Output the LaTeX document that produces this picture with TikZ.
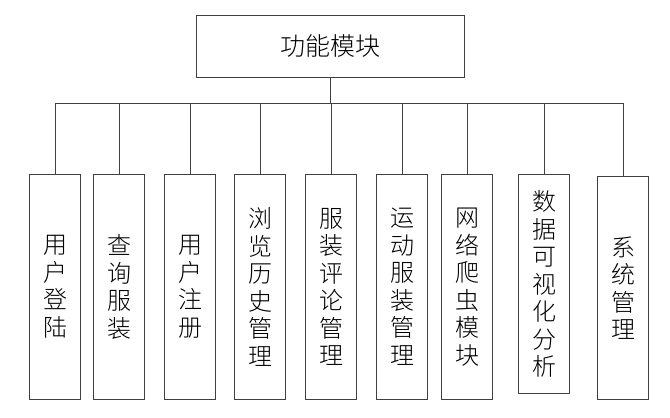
\documentclass[tikz,border=0pt]{standalone}
\usepackage{fontspec}
\setmainfont{Noto Sans CJK SC Light}
\begin{document}
\begin{tikzpicture}[x=1pt,y=-1pt,
  box/.style={draw=black!75,line width=0.8pt,inner sep=0pt},
  lbl/.style={align=center,font=\fontsize{24}{27.5}\selectfont},
  ln/.style={draw=black!75,line width=0.8pt}]
\useasboundingbox (0,0) rectangle (670,418);
\node[box,minimum width=268pt,minimum height=62pt,font=\fontsize{25}{28}\selectfont] (top) at (330,46) {功能模块};
\coordinate (hl) at (55,103);
\coordinate (hr) at (623,103);
\coordinate (hc) at (330,103);
\draw[ln] (top.south) -- (hc);
\draw[ln] (hl) -- (hr);
\foreach \n/\x/\t/\b/\s in {
 a/55/174/399/{用\\户\\登\\陆},
 b/119/174/399/{查\\询\\服\\装},
 c/190/174/399/{用\\户\\注\\册},
 d/260/174/399/{浏\\览\\历\\史\\管\\理},
 e/331/174/399/{服\\装\\评\\论\\管\\理},
 f/402/174/399/{运\\动\\服\\装\\管\\理},
 g/467/174/399/{网\\络\\爬\\虫\\模\\块},
 h/544/174/393/{数\\据\\可\\视\\化\\分\\析},
 i/623/176/399/{系\\统\\管\\理}} {
  \node[box,minimum width=51pt,minimum height={\b-\t},anchor=north] (\n) at (\x,\t) {};
  \node[lbl] at (\n.center) {\s};
  \coordinate (t\n) at (\x,103);
  \draw[ln] (t\n) -- (\n.north);
}
\end{tikzpicture}
\end{document}
